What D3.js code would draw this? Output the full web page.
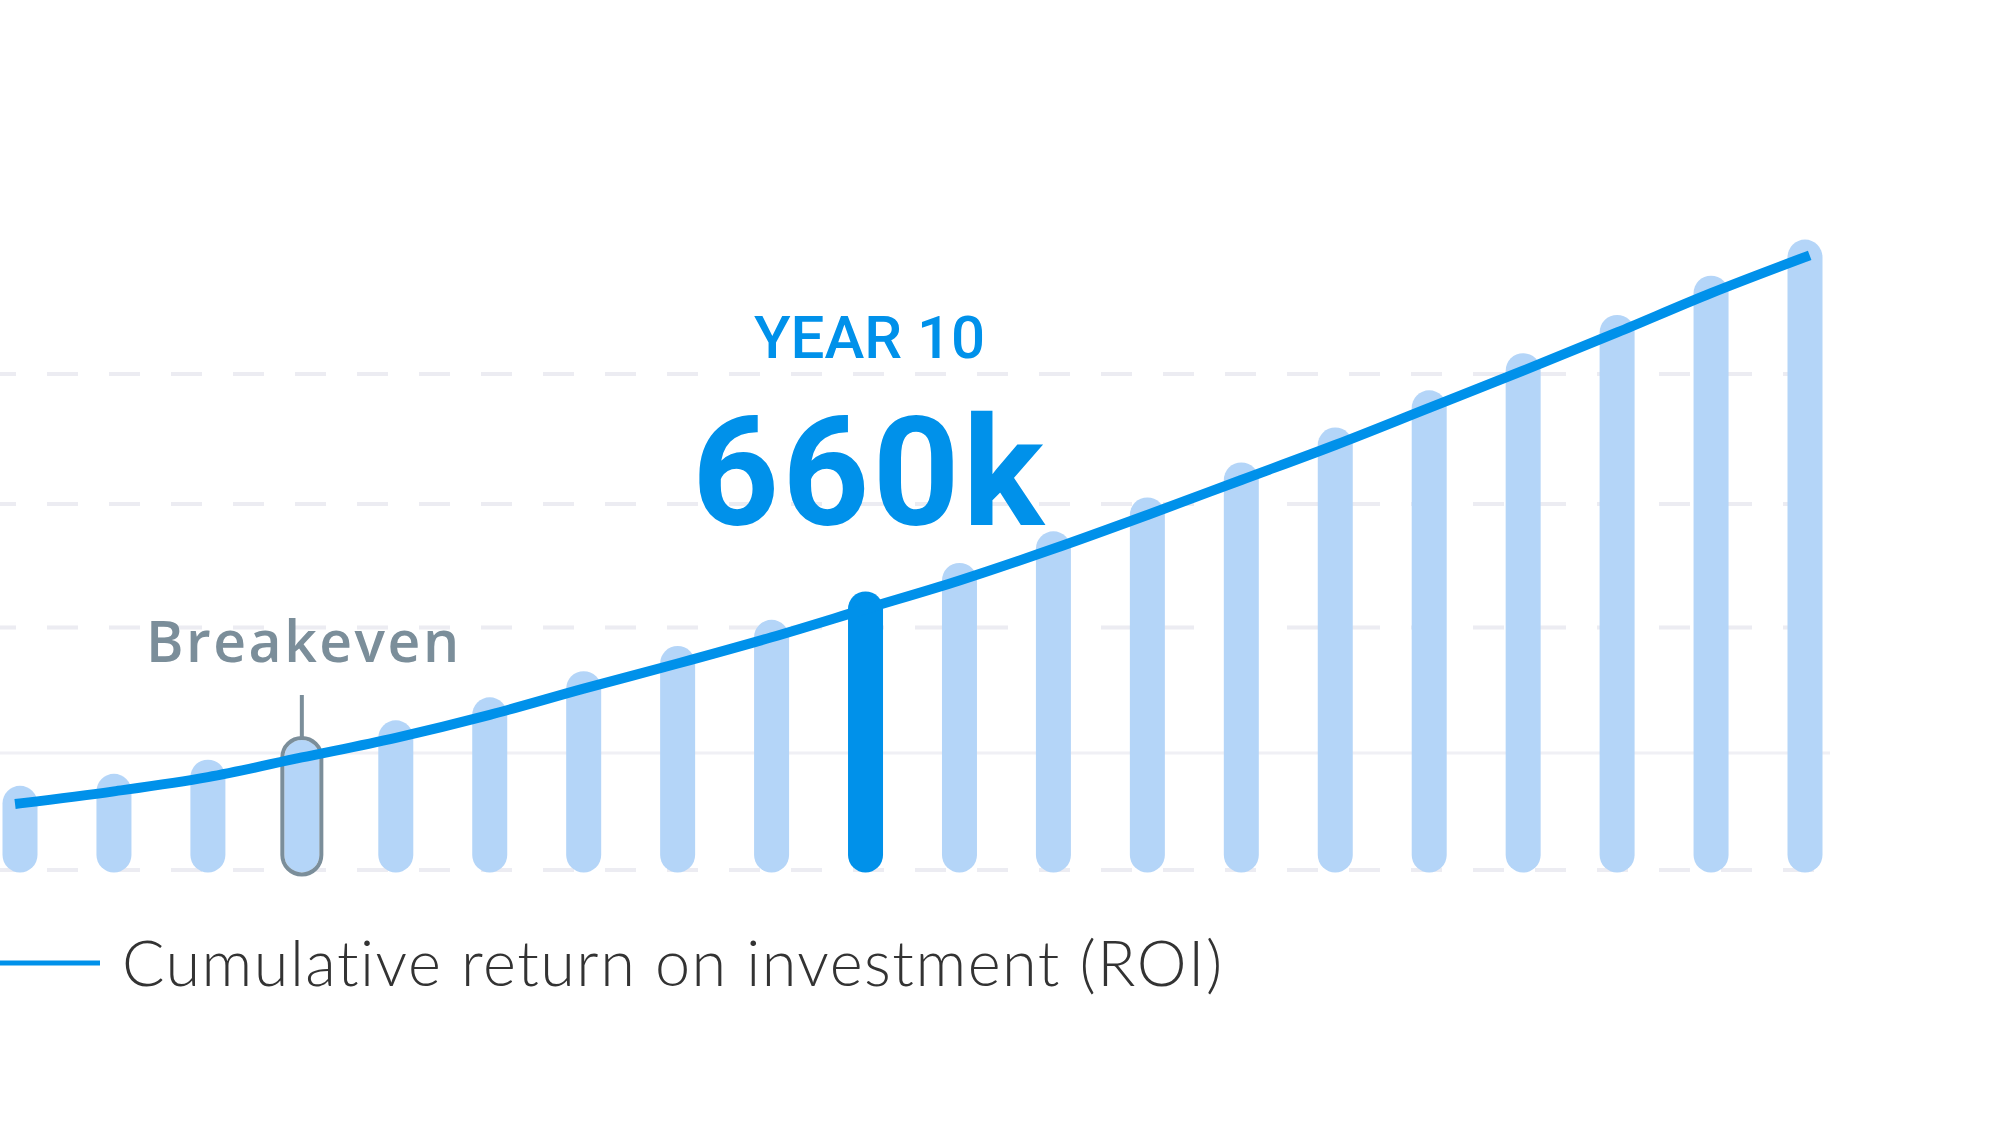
<!DOCTYPE html>
<html>
<head>
<meta charset="utf-8">
<script src="https://cdn.jsdelivr.net/npm/d3@7"></script>
<style>
  html, body { margin: 0; padding: 0; background: #fff; }
  svg { display: block; }
</style>
</head>
<body>
<svg id="chart"></svg>
<script>
// years on the x axis
const years = [1, 2, 3, 4, 5, 6, 7, 8, 9, 10, 11, 12, 13, 14, 15, 16, 17, 18, 19, 20];
// cumulative ROI per year, in thousands
const roi = [-230, -175, -110, -20, 70, 175, 295, 410, 530, 660, 790, 935, 1090, 1250, 1410, 1580, 1750, 1925, 2105, 2270];
// horizontal guide values (k)
const gridValues = [-535, 0, 575, 1140, 1735];
const breakevenYear = 4;
const highlightYear = 10;
const highlightLabel = 'YEAR 10';
const highlightValue = '660k';
const legendLabel = 'Cumulative return on investment (ROI)';

const width = 2000;
const height = 1136;
const blue = '#0091ea';
const paleBlue = '#b4d5f8';
const slate = '#7b8e9a';
const barWidth = 35;

const svg = d3.select('#chart')
  .attr('width', width)
  .attr('height', height);

svg.append('rect').attr('width', width).attr('height', height).attr('fill', '#fff');

const x = d3.scalePoint().domain(years).range([20, 1805]);
const y = d3.scaleLinear().domain([gridValues[0], gridValues[gridValues.length - 1]]).range([870, 374]);
const barBase = y(gridValues[0]) - 15;

// grid
svg.append('g')
  .selectAll('line')
  .data(gridValues)
  .enter()
  .append('line')
  .attr('x1', 0)
  .attr('x2', 1830)
  .attr('y1', d => y(d))
  .attr('y2', d => y(d))
  .attr('stroke', d => d === 0 ? '#f0f0f5' : '#ececf2')
  .attr('stroke-width', d => d === 0 ? 3 : 4)
  .attr('stroke-dasharray', d => d === 0 ? null : '31 31')
  .attr('stroke-dashoffset', 15);

// bars
const data = years.map((yr, i) => ({ year: yr, value: roi[i] }));

svg.append('g')
  .selectAll('line')
  .data(data)
  .enter()
  .append('line')
  .attr('x1', d => x(d.year))
  .attr('x2', d => x(d.year))
  .attr('y1', barBase)
  .attr('y2', d => y(d.value))
  .attr('stroke', d => d.year === highlightYear ? blue : paleBlue)
  .attr('stroke-width', barWidth)
  .attr('stroke-linecap', 'round');

// breakeven marker
const be = data.find(d => d.year === breakevenYear);
const bx = x(be.year);
const r = barWidth / 2 + 2;
const markTop = y(be.value) - barWidth / 2 - 2;
const markBottom = barBase + barWidth / 2 + 2;

svg.append('rect')
  .attr('x', bx - r)
  .attr('y', markTop)
  .attr('width', r * 2)
  .attr('height', markBottom - markTop)
  .attr('rx', r)
  .attr('fill', 'none')
  .attr('stroke', slate)
  .attr('stroke-width', 4);

svg.append('line')
  .attr('x1', bx).attr('x2', bx)
  .attr('y1', 695).attr('y2', markTop)
  .attr('stroke', slate)
  .attr('stroke-width', 4);

svg.append('text')
  .attr('x', bx + 2)
  .attr('y', 662)
  .attr('text-anchor', 'middle')
  .style('font-family', '"Open Sans", sans-serif')
  .style('font-weight', 600)
  .style('font-size', '57px')
  .style('letter-spacing', '2.5px')
  .attr('fill', slate)
  .text('Breakeven');

// ROI line
const line = d3.line()
  .x(d => x(d.year))
  .y(d => y(d.value))
  .curve(d3.curveMonotoneX);

svg.append('path')
  .datum(data)
  .attr('d', line)
  .attr('fill', 'none')
  .attr('stroke', blue)
  .attr('stroke-width', 10)
  .attr('stroke-linecap', 'square');

// highlight labels
const hx = x(highlightYear) + 4;

svg.append('text')
  .attr('x', hx)
  .attr('y', 358)
  .attr('text-anchor', 'middle')
  .style('font-family', 'Roboto, sans-serif')
  .style('font-weight', 500)
  .style('font-size', '60px')
  .attr('fill', blue)
  .text(highlightLabel);

svg.append('text')
  .attr('x', hx)
  .attr('y', 525)
  .attr('text-anchor', 'middle')
  .style('font-family', 'Roboto, sans-serif')
  .style('font-weight', 700)
  .style('font-size', '152px')
  .style('letter-spacing', '3px')
  .attr('fill', blue)
  .text(highlightValue);

// legend
svg.append('line')
  .attr('x1', 0).attr('x2', 100)
  .attr('y1', 963).attr('y2', 963)
  .attr('stroke', blue)
  .attr('stroke-width', 5);

svg.append('text')
  .attr('x', 122)
  .attr('y', 986)
  .style('font-family', 'Lato, sans-serif')
  .style('font-weight', 300)
  .style('font-size', '63px')
  .style('letter-spacing', '1.5px')
  .style('font-variant-ligatures', 'none')
  .attr('fill', '#333')
  .text(legendLabel);
</script>
</body>
</html>
